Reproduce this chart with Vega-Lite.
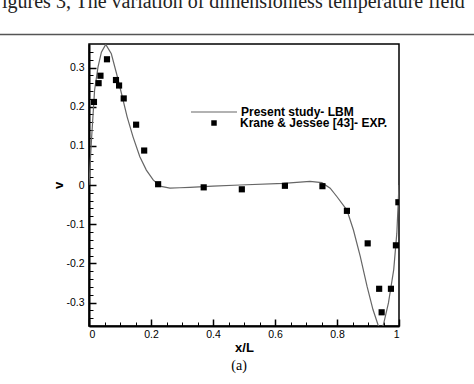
{
  "$schema": "https://vega.github.io/schema/vega-lite/v6.json",
  "autosize": {"type": "none"},
  "width": 310,
  "height": 282,
  "padding": {"left": 89, "top": 44, "right": 75, "bottom": 58},
  "background": "white",
  "title": {
    "text": "igures 3, The variation of dimensionless temperature field",
    "anchor": "start",
    "frame": "group",
    "dx": -87,
    "offset": 0,
    "dy": -5.5,
    "baseline": "alphabetic",
    "font": "Liberation Serif",
    "fontSize": 20,
    "fontWeight": "normal",
    "color": "#222"
  },
  "config": {
    "view": {"stroke": "black", "strokeWidth": 1.5},
    "axis": {
      "grid": false,
      "labelFont": "Liberation Sans",
      "labelFontSize": 10.5,
      "labelColor": "black",
      "titleFont": "Liberation Sans",
      "titleFontSize": 13,
      "titleFontWeight": "bold",
      "titleColor": "black",
      "domainColor": "black",
      "tickColor": "black"
    },
    "legend": {
      "labelFont": "Liberation Sans",
      "labelFontSize": 12,
      "labelFontWeight": "bold",
      "labelColor": "black",
      "padding": 0
    }
  },
  "datasets": {
    "curve": [
      {"x": 0.0, "v": 0.0}, {"x": 0.008, "v": 0.115}, {"x": 0.018, "v": 0.242},
      {"x": 0.029, "v": 0.301}, {"x": 0.04, "v": 0.339}, {"x": 0.054, "v": 0.359},
      {"x": 0.072, "v": 0.335}, {"x": 0.089, "v": 0.284}, {"x": 0.105, "v": 0.233},
      {"x": 0.123, "v": 0.174}, {"x": 0.142, "v": 0.123}, {"x": 0.164, "v": 0.072},
      {"x": 0.185, "v": 0.038}, {"x": 0.207, "v": 0.013}, {"x": 0.229, "v": -0.003},
      {"x": 0.261, "v": -0.008}, {"x": 0.293, "v": -0.007}, {"x": 0.325, "v": -0.006},
      {"x": 0.4, "v": -0.003}, {"x": 0.487, "v": 0.0}, {"x": 0.627, "v": 0.004},
      {"x": 0.713, "v": 0.009}, {"x": 0.751, "v": 0.006}, {"x": 0.778, "v": -0.008},
      {"x": 0.8, "v": -0.03}, {"x": 0.832, "v": -0.064}, {"x": 0.853, "v": -0.115},
      {"x": 0.875, "v": -0.182}, {"x": 0.897, "v": -0.259}, {"x": 0.916, "v": -0.318},
      {"x": 0.932, "v": -0.356}, {"x": 0.941, "v": -0.372}, {"x": 0.95, "v": -0.356},
      {"x": 0.966, "v": -0.301}, {"x": 0.983, "v": -0.216}, {"x": 0.993, "v": -0.123},
      {"x": 1.0, "v": 0.0}
    ],
    "exp": [
      {"x": 0.016, "v": 0.212}, {"x": 0.031, "v": 0.26}, {"x": 0.037, "v": 0.279},
      {"x": 0.058, "v": 0.321}, {"x": 0.087, "v": 0.268}, {"x": 0.097, "v": 0.254},
      {"x": 0.112, "v": 0.221}, {"x": 0.152, "v": 0.154}, {"x": 0.178, "v": 0.088},
      {"x": 0.223, "v": 0.002}, {"x": 0.37, "v": -0.006}, {"x": 0.493, "v": -0.011},
      {"x": 0.632, "v": -0.002}, {"x": 0.753, "v": -0.003}, {"x": 0.832, "v": -0.066},
      {"x": 0.899, "v": -0.149}, {"x": 0.936, "v": -0.265}, {"x": 0.944, "v": -0.325},
      {"x": 0.974, "v": -0.265}, {"x": 0.99, "v": -0.154}, {"x": 0.998, "v": -0.044}
    ]
  },
  "resolve": {"axis": {"x": "independent", "y": "independent"}},
  "layer": [
    {
      "data": {"name": "curve"},
      "transform": [{"calculate": "'Present study- LBM'", "as": "series"}],
      "mark": {"type": "line", "clip": true, "strokeWidth": 1.2},
      "encoding": {
        "x": {
          "field": "x", "type": "quantitative",
          "scale": {"domain": [0, 1], "nice": false, "zero": false},
          "axis": {
            "orient": "bottom", "title": "x/L",
            "values": [0, 0.2, 0.4, 0.6, 0.8, 1],
            "labelExpr": "'' + round(datum.value*10)/10",
            "tickSize": -7, "tickWidth": 1.5, "domainWidth": 2,
            "labelPadding": 10, "titlePadding": 2
          }
        },
        "y": {
          "field": "v", "type": "quantitative",
          "scale": {"domain": [-0.36, 0.36], "nice": false, "zero": false},
          "axis": {
            "orient": "left", "title": "v",
            "values": [-0.3, -0.2, -0.1, 0, 0.1, 0.2, 0.3],
            "labelExpr": "'' + round(datum.value*10)/10",
            "tickSize": -7, "tickWidth": 1.5, "domainWidth": 2,
            "labelPadding": 12, "titlePadding": 0
          }
        },
        "color": {
          "field": "series", "type": "nominal",
          "scale": {"range": ["#666666"]},
          "legend": {
            "title": null, "orient": "none", "legendX": 101, "legendY": 44,
            "symbolType": "stroke", "symbolSize": 2116, "symbolStrokeWidth": 1.2,
            "labelOffset": 3
          }
        }
      }
    },
    {
      "data": {"name": "exp"},
      "transform": [{"calculate": "'Krane & Jessee [43]- EXP.'", "as": "series2"}],
      "mark": {"type": "point", "filled": true, "color": "black", "opacity": 1, "size": 38, "clip": true},
      "encoding": {
        "x": {
          "field": "x", "type": "quantitative",
          "scale": {"domain": [0, 1], "nice": false, "zero": false},
          "axis": {
            "orient": "bottom", "title": null, "labels": false, "domain": false,
            "values": [0.05, 0.1, 0.15, 0.25, 0.3, 0.35, 0.45, 0.5, 0.55, 0.65, 0.7, 0.75, 0.85, 0.9, 0.95],
            "tickSize": -4, "tickWidth": 1
          }
        },
        "y": {
          "field": "v", "type": "quantitative",
          "scale": {"domain": [-0.36, 0.36], "nice": false, "zero": false},
          "axis": {
            "orient": "left", "title": null, "labels": false, "domain": false,
            "values": [-0.34, -0.32, -0.28, -0.26, -0.24, -0.22, -0.18, -0.16, -0.14, -0.12, -0.08, -0.06, -0.04, -0.02, 0.02, 0.04, 0.06, 0.08, 0.12, 0.14, 0.16, 0.18, 0.22, 0.24, 0.26, 0.28, 0.32, 0.34],
            "tickSize": -4, "tickWidth": 1
          }
        },
        "shape": {
          "field": "series2", "type": "nominal",
          "scale": {"range": ["square"]},
          "legend": {
            "title": null, "orient": "none", "legendX": 119, "legendY": 73,
            "symbolSize": 30, "symbolFillColor": "black", "symbolStrokeColor": "black",
            "labelOffset": 20
          }
        }
      }
    },
    {
      "data": {"values": [{"label": "rule"}]},
      "mark": {"type": "rule", "clip": false, "color": "#555555", "strokeWidth": 1.5},
      "encoding": {
        "x": {"datum": -0.29, "type": "quantitative", "scale": {"domain": [0, 1], "nice": false, "zero": false}, "axis": null},
        "x2": {"datum": 1.25},
        "y": {"datum": 0.384, "type": "quantitative", "scale": {"domain": [-0.36, 0.36], "nice": false, "zero": false}, "axis": null}
      }
    },
    {
      "data": {"values": [{"label": "(a)"}]},
      "mark": {"type": "text", "clip": false, "font": "Liberation Serif", "fontSize": 14, "color": "black", "baseline": "middle", "align": "center"},
      "encoding": {
        "text": {"field": "label"},
        "x": {"datum": 0.484, "type": "quantitative", "scale": {"domain": [0, 1], "nice": false, "zero": false}, "axis": null},
        "y": {"datum": -0.462, "type": "quantitative", "scale": {"domain": [-0.36, 0.36], "nice": false, "zero": false}, "axis": null}
      }
    }
  ]
}
